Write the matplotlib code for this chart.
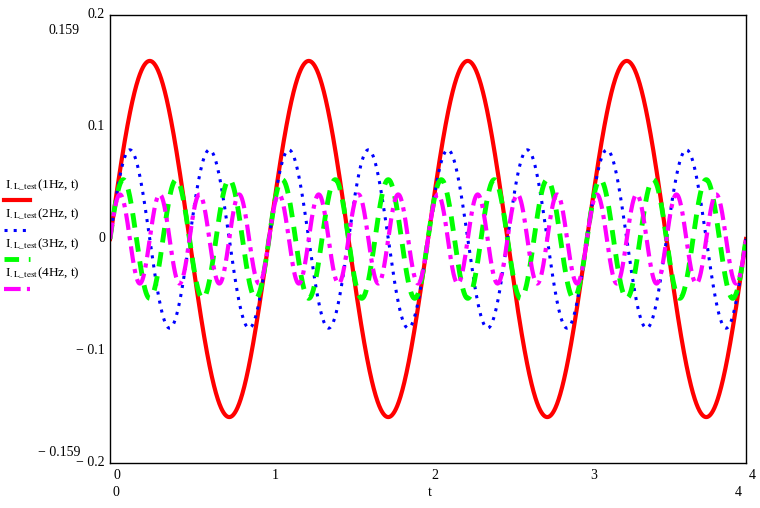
import matplotlib.pyplot as plt
import numpy as np

# Mathcad-style plot of I_L_test(f, t) for four frequencies
freqs = [1, 2, 3, 4]            # Hz
amps = [0.159, 0.0796, 0.053, 0.0398]
labels = ["1Hz", "2Hz", "3Hz", "4Hz"]
colors = ["#ff0000", "#0000ff", "#00ff00", "#ff00ff"]
styles = ["-", (0, (1, 2)), (0, (3, 2)), (0, (4, 1.5, 1, 1.5))]
widths = [3, 2.2, 3.5, 3]
yticks = [-0.2, -0.1, 0, 0.1, 0.2]
xticks = [0, 1, 2, 3, 4]

plt.rcParams["font.family"] = ["Liberation Serif", "DejaVu Serif"]

fig = plt.figure(figsize=(7.6, 5.08), dpi=100)
ax = fig.add_axes([110 / 760, 45 / 508, 636 / 760, 448 / 508])

t = np.linspace(0, 4, 2000)
for f, a, c, ls, lw in zip(freqs, amps, colors, styles, widths):
    ax.plot(t, a * np.sin(2 * np.pi * f * t), color=c, linestyle=ls, linewidth=lw)

ax.set_xlim(0, 4)
ax.set_ylim(-0.2, 0.2)
ax.set_xticks([])
ax.set_yticks([])
for s in ax.spines.values():
    s.set_linewidth(1)

lab = dict(fontsize=10, color="black")
for y in yticks:
    ax.text(-0.008, y, f"{y:g}".replace("-", "\u2212 "), ha="right", va="center",
            transform=ax.get_yaxis_transform(), **lab)
for x in xticks:
    ax.text(x + 0.02, -0.205, f"{x}", ha="left", va="top", **lab)

# extra Mathcad axis markers
fig.text(80 / 760, 1 - 30 / 508, "0.159", ha="right", va="center", fontsize=10)
fig.text(80 / 760, 1 - 452 / 508, "\u2212 0.159", ha="right", va="center", fontsize=10)
fig.text(113 / 760, 1 - 493 / 508, "0", ha="left", va="center", fontsize=10)
fig.text(735 / 760, 1 - 493 / 508, "4", ha="left", va="center", fontsize=10)
fig.text(430 / 760, 1 - 493 / 508, "t", ha="center", va="center", fontsize=10)

# legend on the left
for i, (lb, c, ls, lw) in enumerate(zip(labels, colors, styles, widths)):
    ytxt = 1 - (185 + i * 29.5) / 508
    fig.text(5 / 760, ytxt, r"I$_{\mathrm{.L\_test}}$(" + lb + ", t)", fontsize=9.5,
             ha="left", va="center", math_fontfamily="stix")
    yl = ytxt - 15 / 508
    fig.add_artist(plt.Line2D([4 / 760, 30 / 760], [yl, yl], color=c, linestyle=ls,
                              linewidth=lw, transform=fig.transFigure))

fig.savefig("out.png", dpi=100)
